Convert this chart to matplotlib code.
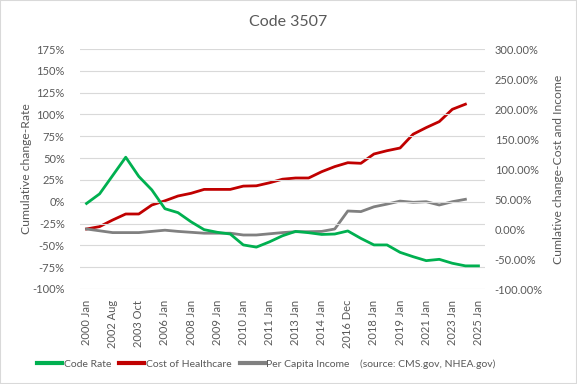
import matplotlib
matplotlib.use("Agg")
import matplotlib.pyplot as plt
from matplotlib.lines import Line2D
from matplotlib.patches import Rectangle
from matplotlib.ticker import FuncFormatter

plt.rcParams['font.family'] = ['Lato', 'DejaVu Sans']

# category labels (only every other one is printed on the axis)
periods = ['2000 Jan', '2001 Jan', '2002 Aug', '2003 Jan', '2003 Oct', '2005 Jan',
           '2006 Jan', '2007 Jan', '2008 Jan', '2008 Jul', '2009 Jan', '2009 Jul',
           '2010 Jan', '2010 Jul', '2011 Jan', '2012 Jan', '2013 Jan', '2013 Jul',
           '2014 Jan', '2015 Jan', '2016 Dec', '2017 Jan', '2018 Jan', '2018 Jul',
           '2019 Jan', '2020 Jan', '2021 Jan', '2022 Jan', '2023 Jan', '2024 Jan',
           '2025 Jan']

# cumulative change, percent
code_rate = [-2, 9, 30, 51, 29, 13.5, -8, -12.5, -23, -32, -35, -37, -49.5, -52,
             -46, -39, -34, -35.5, -37.5, -37, -33.5, -42, -49.5, -49.5, -58, -63,
             -67.5, -66, -70.5, -73.5, -73.5]
healthcare = [0, 4, 15, 25, 25, 40, 47, 55, 59.5, 66, 66, 66, 71.5, 72, 77, 83, 85,
              85, 95.5, 104, 110.5, 109.5, 125, 130.5, 135, 158, 169, 179, 199.5, 208]
income = [0, -3, -6, -6, -6, -4, -2, -4, -5.5, -7, -7, -7, -10, -10, -8, -6, -4.5,
          -4.5, -4, 0, 30, 29, 37, 41.5, 46.5, 44.5, 45.5, 40, 45.5, 49.5]

txt = '#595959'
grid = '#d9d9d9'

fig = plt.figure(figsize=(5.77, 3.84), dpi=100)
fig.patches.append(Rectangle((0, 0), 1, 1, transform=fig.transFigure, fill=False,
                             edgecolor=grid, linewidth=1.5))

ax = fig.add_axes([80/577, 1-289/384, 405/577, 240/384])
ax2 = ax.twinx()

x = list(range(len(periods)))
ax.plot(x, code_rate, color='#00b050', lw=2.0, solid_joinstyle='round', zorder=3)
ax2.plot(x[:len(healthcare)], healthcare, color='#c00000', lw=2.0, solid_joinstyle='round')
ax2.plot(x[:len(income)], income, color='#808080', lw=2.0, solid_joinstyle='round')

ax.set_xlim(-0.5, len(periods) - 0.5)
ax.set_ylim(-100, 175)
ax.set_yticks(range(-100, 176, 25))
ax.yaxis.set_major_formatter(FuncFormatter(lambda v, p: '{:.0f}%'.format(v)))
ax2.set_ylim(-100, 300)
ax2.set_yticks(range(-100, 301, 50))
ax2.yaxis.set_major_formatter(FuncFormatter(lambda v, p: '{:.2f}%'.format(v)))

ax.set_xticks(x[::2])
ax.set_xticklabels(periods[::2], rotation=90)

ax.grid(axis='y', color=grid, lw=0.8)
ax.set_axisbelow(True)
ax.set_zorder(ax2.get_zorder() + 1)
ax.patch.set_visible(False)

for a in (ax, ax2):
    for s in a.spines.values():
        s.set_visible(False)
    a.tick_params(length=0, labelsize=8, labelcolor=txt)
ax.tick_params(axis='y', pad=11)
ax.tick_params(axis='x', pad=8)
ax2.tick_params(axis='y', pad=7)

ax.set_ylabel('Cumulative change-Rate', color=txt, fontsize=8.7, labelpad=0)
ax2.set_ylabel('Cumlative change-Cost and Income', color=txt, fontsize=8.7, labelpad=7)
fig.text(0.5, 1-22/384, 'Code 3507', ha='center', va='center', fontsize=11.5, color=txt)

handles = [Line2D([], [], color='#00b050', lw=3),
           Line2D([], [], color='#c00000', lw=3),
           Line2D([], [], color='#808080', lw=3)]
fig.legend(handles, ['Code Rate', 'Cost of Healthcare', 'Per Capita Income'],
           loc='center left', bbox_to_anchor=(37/577, 1-364/384), ncol=3, frameon=False,
           fontsize=7.5, labelcolor=txt, handlelength=2.4, handletextpad=0.15,
           columnspacing=0.8, borderpad=0, borderaxespad=0)
fig.text(360/577, 1-364/384, '(source: CMS.gov, NHEA.gov)', ha='left', va='center',
         fontsize=7.5, color=txt)

fig.savefig('out.png', dpi=100)
